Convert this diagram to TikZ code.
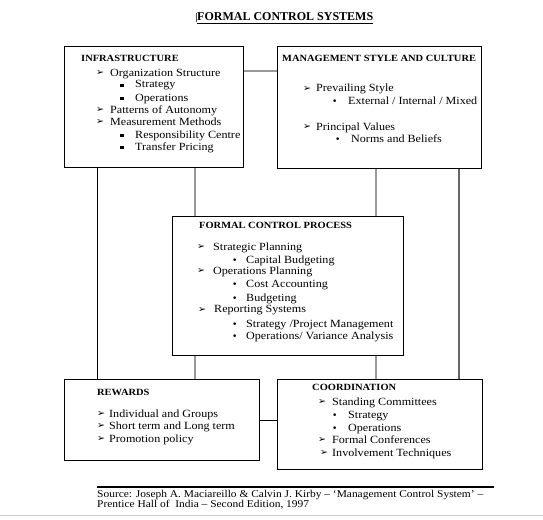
\documentclass[tikz,border=0pt]{standalone}
\usepackage{fontspec}
\setmainfont[FakeStretch=1.1]{Liberation Serif}
\newfontfamily\plainserif{Liberation Serif}
\newfontfamily\dejavu{DejaVu Sans}
\usetikzlibrary{calc}
\newcommand{\arr}{{\dejavu\fontsize{9.5}{10}\selectfont\raisebox{0.3pt}{➢}}}
\newcommand{\sqb}{\rule[0.6pt]{3.3pt}{3.3pt}}
\newcommand{\rdb}{{\dejavu\fontsize{9}{10}\selectfont •}}
\begin{document}
\begin{tikzpicture}[x=1pt,y=-1pt,
  box/.style={draw=black,line width=0.9pt,rectangle,inner sep=0pt,anchor=north west},
  glink/.style={draw=black!40,line width=1.5pt},
  dlink/.style={draw=black!60,line width=1.2pt},
  blink/.style={draw=black,line width=0.9pt},
  txt/.style={anchor=base west,inner sep=0pt,font=\fontsize{11}{12}\selectfont},
  hdr/.style={anchor=base west,inner sep=0pt,font=\fontsize{9.5}{11}\selectfont\bfseries},
  mk/.style={anchor=base west,inner sep=0pt,font=\fontsize{10}{12}\selectfont},
  src/.style={anchor=base west,inner sep=0pt,font=\fontsize{10.4}{10}\selectfont}]
\useasboundingbox (0,0) rectangle (543,519);
\fill[white] (0,0) rectangle (543,519);

% title
\node[anchor=base west,inner sep=0pt,font=\plainserif\fontsize{12}{13}\selectfont\bfseries] (title) at (197,21) {FORMAL CONTROL SYSTEMS};
\draw[line width=0.6pt] (title.base west) ++(0,2) coordinate (ul1) -- (ul1 -| title.base east);
\draw[line width=0.4pt,black!70] ($(title.base west)+(-1.2,1.5)$) coordinate (bar1) -- ++(0,-9);

% boxes
\node[box,minimum width=179pt,minimum height=121pt] (infra) at (64,46) {};
\node[box,minimum width=204pt,minimum height=122pt] (mgmt) at (277,46) {};
\node[box,minimum width=231pt,minimum height=139pt] (fcp) at (172,216) {};
\node[box,minimum width=195pt,minimum height=81pt] (rew) at (64,379) {};
\node[box,minimum width=205pt,minimum height=90pt] (coord) at (277,379) {};

% connector guide coordinates
\coordinate (cA) at (97,0);
\coordinate (cB) at (195,0);
\coordinate (cC) at (376,0);
\coordinate (cD) at (459,0);
\coordinate (cR) at (0,71);
\coordinate (cS) at (0,420);

\draw[glink] (infra.east |- cR) -- (mgmt.west |- cR);
\draw[blink] (infra.south -| cA) -- (rew.north -| cA);
\draw[glink] (infra.south -| cB) -- (fcp.north -| cB);
\draw[glink] (fcp.south -| cB) -- (rew.north -| cB);
\draw[glink] (mgmt.south -| cC) -- (fcp.north -| cC);
\draw[glink] (fcp.south -| cC) -- (coord.north -| cC);
\draw[dlink] (mgmt.south -| cD) -- (coord.north -| cD);
\draw[blink] (rew.east |- cS) -- (coord.west |- cS);

% INFRASTRUCTURE
\node[hdr] (i0) at (81,61) {INFRASTRUCTURE};
\node[mk] (i1a) at (96,76) {\arr}; \node[txt] (i1) at (110,76) {Organization Structure};
\node[mk] (i2a) at (120,88) {\sqb}; \node[txt] (i2) at (135,88) {Strategy};
\node[mk] (i3a) at (120,101) {\sqb}; \node[txt] (i3) at (135,101) {Operations};
\node[mk] (i4a) at (96,113) {\arr}; \node[txt] (i4) at (110,113) {Patterns of Autonomy};
\node[mk] (i5a) at (96,125) {\arr}; \node[txt] (i5) at (110,125) {Measurement Methods};
\node[mk] (i6a) at (120,138) {\sqb}; \node[txt] (i6) at (135,138) {Responsibility Centre};
\node[mk] (i7a) at (120,150) {\sqb}; \node[txt] (i7) at (135,150) {Transfer Pricing};

% MANAGEMENT STYLE AND CULTURE
\node[hdr] (m0) at (282,61) {MANAGEMENT STYLE AND CULTURE};
\node[mk] (m1a) at (303,92) {\arr}; \node[txt] (m1) at (316,92) {Prevailing Style};
\node[mk] (m2a) at (332,104) {\rdb}; \node[txt] (m2) at (348,104) {External / Internal / Mixed};
\node[mk] (m3a) at (303,130) {\arr}; \node[txt] (m3) at (316,130) {Principal Values};
\node[mk] (m4a) at (335,142) {\rdb}; \node[txt] (m4) at (351,142) {Norms and Beliefs};

% FORMAL CONTROL PROCESS
\node[hdr] (f0) at (199,228) {FORMAL CONTROL PROCESS};
\node[mk] (f1a) at (197,250) {\arr}; \node[txt] (f1) at (213,250) {Strategic Planning};
\node[mk] (f2a) at (232,263) {\rdb}; \node[txt] (f2) at (246,263) {Capital Budgeting};
\node[mk] (f3a) at (197,274) {\arr}; \node[txt] (f3) at (213,274) {Operations Planning};
\node[mk] (f4a) at (232,287) {\rdb}; \node[txt] (f4) at (246,287) {Cost Accounting};
\node[mk] (f5a) at (232,301) {\rdb}; \node[txt] (f5) at (246,301) {Budgeting};
\node[mk] (f6a) at (198,313) {\arr}; \node[txt] (f6) at (214,312) {Reporting Systems};
\node[mk] (f7a) at (232,327) {\rdb}; \node[txt] (f7) at (246,327) {Strategy /Project Management};
\node[mk] (f8a) at (232,339) {\rdb}; \node[txt] (f8) at (246,339) {Operations/ Variance Analysis};

% REWARDS
\node[hdr] (r0) at (97,395) {REWARDS};
\node[mk] (r1a) at (97,417) {\arr}; \node[txt] (r1) at (109,417) {Individual and Groups};
\node[mk] (r2a) at (97,429) {\arr}; \node[txt] (r2) at (109,429) {Short term and Long term};
\node[mk] (r3a) at (97,442) {\arr}; \node[txt] (r3) at (109,442) {Promotion policy};

% COORDINATION
\node[hdr] (c0) at (312,390) {COORDINATION};
\node[mk] (c1a) at (318,405) {\arr}; \node[txt] (c1) at (332,405) {Standing Committees};
\node[mk] (c2a) at (332,418) {\rdb}; \node[txt] (c2) at (348,418) {Strategy};
\node[mk] (c3a) at (332,431) {\rdb}; \node[txt] (c3) at (348,431) {Operations};
\node[mk] (c4a) at (318,443) {\arr}; \node[txt] (c4) at (332,443) {Formal Conferences};
\node[mk] (c5a) at (320,456) {\arr}; \node[txt] (c5) at (332,456) {Involvement Techniques};

% source
\coordinate (s1) at (97,487);
\coordinate (s2) at (494,487);
\draw[line width=1.4pt] (s1) -- (s2);
\node[src] (so1) at (97,497) {Source: Joseph A. Maciareillo \& Calvin J. Kirby – ‘Management Control System’ –};
\node[src] (so2) at (97,507) {Prentice Hall of\ \ India – Second Edition, 1997};
\coordinate (g1) at (0,515);
\coordinate (g2) at (543,515);
\draw[black!20,line width=1pt] (g1) -- (g2);
\end{tikzpicture}
\end{document}
